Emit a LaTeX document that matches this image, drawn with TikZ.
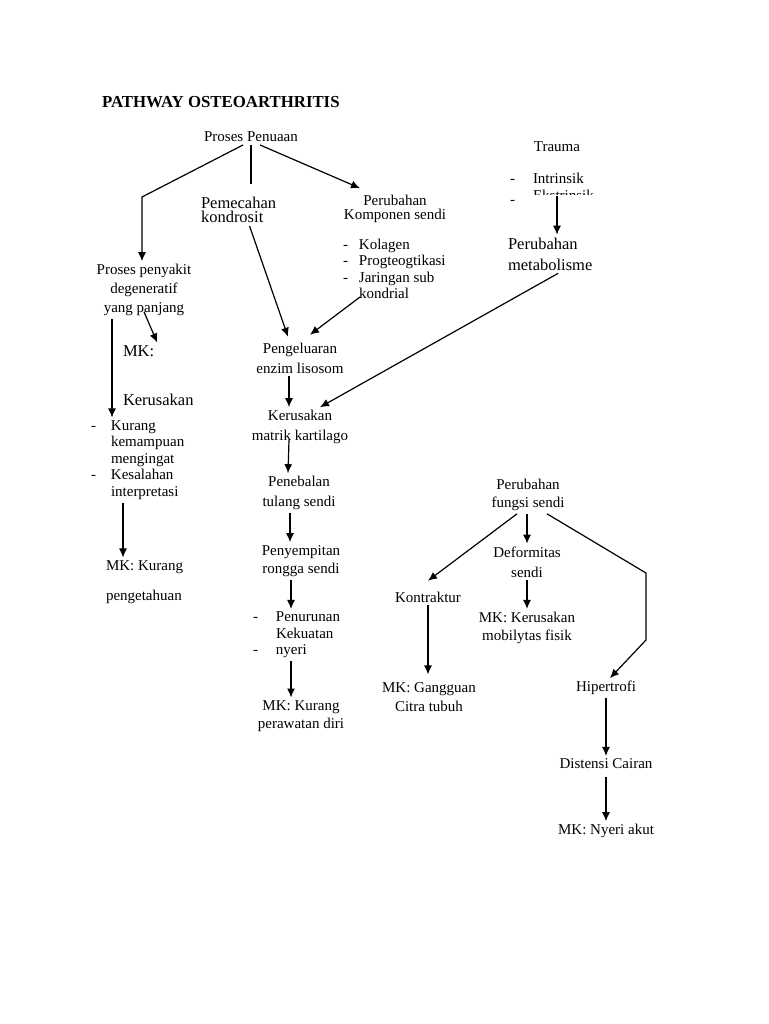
\documentclass[tikz,border=0pt]{standalone}
\usepackage{fontspec}
\setmainfont{Liberation Serif}
\usetikzlibrary{arrows.meta}
\newcommand{\lidash}[1][16pt]{\makebox[#1][l]{-}}
\newcommand{\liskip}[1][16pt]{\hspace*{#1}}

\begin{document}
\begin{tikzpicture}[x=1pt,y=-1pt]
				\tikzstyle{common} = [inner sep=1pt, outer sep=2pt]
				\tikzstyle{txt} = [common, align=center, font=\fontsize{15}{19}\selectfont]
				\tikzstyle{lst} = [common, align=left, anchor=west, font=\fontsize{15}{16.5}\selectfont]
				\tikzstyle{big} = [common, align=left, anchor=west, font=\fontsize{16.5}{21}\selectfont]
				\tikzstyle{line} = [draw, line width=1.2pt, -{Latex[length=9pt,width=8pt]}]
				\tikzstyle{plain} = [draw, line width=1.2pt]
				\fill[white] (0,0) rectangle (768,1024);
				\useasboundingbox (0,0) rectangle (768,1024);
				\node[common, anchor=west, font=\bfseries\fontsize{16.8}{19}\selectfont] (title) at (99,102) {PATHWAY OSTEOARTHRITIS};
				\node[txt] (penuaan) at (251,137) {Proses Penuaan};
				\node[big, font=\fontsize{16.5}{14.5}\selectfont] (pemecahan) at (198,210) {Pemecahan\\kondrosit};
				\node[txt, font=\fontsize{15}{14}\selectfont] (komponen) at (395,209) {Perubahan\\Komponen sendi};
				\node[lst] (komplist) at (340,269) {\lidash Kolagen\\\lidash Progteogtikasi\\\lidash Jaringan sub\\\liskip kondrial};
				\node[txt] (trauma) at (557,147) {Trauma};
				\node[lst] (intrinsik) at (507,178) {\lidash[23pt]Intrinsik};
				\begin{scope}
					\clip (500,180) rectangle (620,195);
					\node[lst, anchor=base west] (ekstrinsik) at (530,201) {Ekstrinsik};
				\end{scope}
				\node[lst] (dash) at (507,202) {-};
				\node[big] (metabolisme) at (505,254) {Perubahan\\metabolisme};
				\node[txt] (penyakit) at (144,290) {Proses penyakit\\degeneratif\\yang panjang};
				\node[big] (mk1) at (120,351) {MK:};
				\node[big] (kerusakan1) at (120,400) {Kerusakan};
				\node[lst] (kuranglist) at (88,460) {\lidash[20pt]Kurang\\\liskip[20pt]kemampuan\\\liskip[20pt]mengingat\\\lidash[20pt]Kesalahan\\\liskip[20pt]interpretasi};
				\node[lst, font=\fontsize{15}{30}\selectfont] (mkkurang) at (103,582) {MK: Kurang\\pengetahuan};
				\node[txt, font=\fontsize{15}{20}\selectfont] (pengeluaran) at (300,358) {Pengeluaran\\enzim lisosom};
				\node[txt, font=\fontsize{15}{20}\selectfont] (matrik) at (300,427) {Kerusakan\\matrik kartilago};
				\node[txt, font=\fontsize{15}{20}\selectfont] (penebalan) at (299,493) {Penebalan\\tulang sendi};
				\node[txt, font=\fontsize{15}{18.5}\selectfont] (penyempitan) at (301,561) {Penyempitan\\rongga sendi};
				\node[lst] (penurunan) at (250,635) {\lidash[23pt]Penurunan\\\liskip[23pt]Kekuatan\\\lidash[23pt]nyeri};
				\node[txt, font=\fontsize{15}{18}\selectfont] (perawatan) at (301,716) {MK: Kurang\\perawatan diri};
				\node[txt, font=\fontsize{15}{18}\selectfont] (fungsi) at (528,495) {Perubahan\\fungsi sendi};
				\node[txt, font=\fontsize{15}{20}\selectfont] (deformitas) at (527,562) {Deformitas\\sendi};
				\node[txt, font=\fontsize{15}{18.5}\selectfont] (mobilitas) at (527,628) {MK: Kerusakan\\mobilytas fisik};
				\node[txt] (kontraktur) at (428,597) {Kontraktur};
				\node[txt, font=\fontsize{15}{19}\selectfont] (citra) at (429,697) {MK: Gangguan\\Citra tubuh};
				\node[txt] (hipertrofi) at (606,688) {Hipertrofi};
				\node[txt] (distensi) at (606,764) {Distensi Cairan};
				\node[txt] (nyeri) at (606,831) {MK: Nyeri akut};

				\coordinate (c1) at (142,197);
				\coordinate (h1) at (646,573);
				\coordinate (h2) at (646,640);
				\draw[line] ([xshift=-8pt]penuaan.south) -- (c1) -- (c1 |- penyakit.north);
				\draw[plain] (penuaan.south) -- ++(0,39);
				\draw[line] ([xshift=9pt]penuaan.south) -- ([xshift=-35pt,yshift=4pt]komponen.north);
				\draw[line] ([xshift=11pt]pemecahan.south) -- ([xshift=-12pt,yshift=3pt]pengeluaran.north);
				\draw[line] ([shift={(20pt,5pt)}]komplist.south west) -- ([xshift=10pt,yshift=5pt]pengeluaran.north);
				\draw[line] ([xshift=-32pt]penyakit.south) -- ([xshift=-32pt]penyakit.south |- kuranglist.north);
				\draw[line] ([yshift=7pt]penyakit.south) -- (mk1.north east);
				\draw[line] ([xshift=20pt]mkkurang.north west |- kuranglist.south) -- ([xshift=20pt]mkkurang.north west);
				\draw[line] (trauma.south |- ekstrinsik.center) -- (trauma.south |- metabolisme.north);
				\draw[line] ([xshift=8pt]metabolisme.south) -- ([xshift=20pt]matrik.north);
				\draw[line] ([xshift=-11pt]pengeluaran.south) -- ([xshift=-11pt]matrik.north);
				\draw[line] ([xshift=-11pt,yshift=7pt]matrik.south) -- ([xshift=-11pt]penebalan.north);
				\draw[line] ([xshift=-9pt]penebalan.south) -- ([xshift=-9pt]penebalan.south |- penyempitan.north);
				\draw[line] ([xshift=-10pt]penyempitan.south) -- ([xshift=-10pt]penyempitan.south |- penurunan.north);
				\draw[line] ([xshift=-10pt]perawatan.north |- penurunan.south) -- ([xshift=-10pt]perawatan.north);
				\draw[line] ([xshift=-1pt]fungsi.south) -- ([xshift=-1pt]fungsi.south |- deformitas.north);
				\draw[line] ([xshift=-11pt]fungsi.south) -- ([yshift=8pt]kontraktur.north);
				\draw[line] ([xshift=19pt]fungsi.south) -- (h1) -- (h2) -- ([xshift=4pt]hipertrofi.north);
				\draw[line] (deformitas.south) -- (deformitas.south |- mobilitas.north);
				\draw[line] (kontraktur.south) -- ([yshift=5pt]kontraktur.south |- citra.north);
				\draw[line] (hipertrofi.south) -- (distensi.north);
				\draw[line] ([yshift=-5pt]distensi.south) -- (nyeri.north);
			\end{tikzpicture}
\end{document}
